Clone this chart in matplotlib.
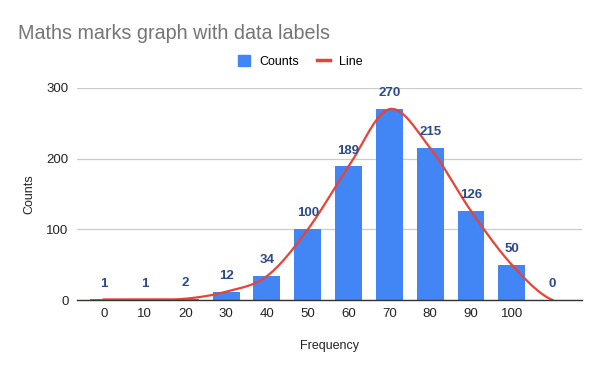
import matplotlib
matplotlib.use("Agg")
import matplotlib.pyplot as plt
import numpy as np
from matplotlib.lines import Line2D
from matplotlib.patches import Patch

# chart data
tick_labels = ["0", "10", "20", "30", "40", "50", "60", "70", "80", "90", "100", ""]
counts = [1, 1, 2, 12, 34, 100, 189, 270, 215, 126, 50, 0]

plt.rcParams["font.family"] = ["Liberation Sans", "DejaVu Sans"]

BLUE = "#4285F4"
RED = "#EA4335"
LABEL = "#2A4A8C"


def smooth(y, steps=30):
    # catmull-rom curve through the points, like the sheets "smooth" line
    y = np.asarray(y, dtype=float)
    p = np.concatenate([[y[0]], y, [y[-1]]])
    xs, ys = [], []
    for i in range(len(y) - 1):
        p0, p1, p2, p3 = p[i], p[i + 1], p[i + 2], p[i + 3]
        t = np.linspace(0, 1, steps, endpoint=False)
        v = 0.5 * ((2 * p1) + (-p0 + p2) * t + (2 * p0 - 5 * p1 + 4 * p2 - p3) * t**2
                   + (-p0 + 3 * p1 - 3 * p2 + p3) * t**3)
        xs.append(i + t)
        ys.append(v)
    xs.append([len(y) - 1])
    ys.append([y[-1]])
    return np.concatenate(xs), np.concatenate(ys)


fig = plt.figure(figsize=(6, 3.71), dpi=100)
ax = fig.add_axes([0.128, 0.191, 0.842, 0.572])

x = np.arange(len(counts))
ax.bar(x, counts, width=0.66, color=BLUE, zorder=2)
sx, sy = smooth(counts)
ax.plot(sx, sy, color=RED, lw=1.6, zorder=3)

for xi, v in zip(x, counts):
    ax.text(xi, v + 14, str(v), ha="center", va="bottom", fontsize=9.5,
            fontweight="bold", color=LABEL, clip_on=False)

ax.set_xlim(-0.66, 11.72)
ax.set_ylim(0, 300)
ax.set_yticks([0, 100, 200, 300])
ax.set_xticks(x)
ax.set_xticklabels(tick_labels)
ax.tick_params(length=0, labelsize=9.5, colors="#222222")
ax.tick_params(axis="y", pad=6)
ax.tick_params(axis="x", pad=6)
ax.yaxis.grid(True, color="#cccccc", lw=0.9, zorder=0)
ax.set_axisbelow(True)
for s in ["top", "right", "left"]:
    ax.spines[s].set_visible(False)
ax.spines["bottom"].set_color("#333333")
ax.spines["bottom"].set_linewidth(1.0)
ax.spines["bottom"].set_zorder(4)

ax.set_xlabel("Frequency", fontsize=9, color="#222222", labelpad=14)
ax.set_ylabel("Counts", fontsize=9, color="#222222", labelpad=8)

fig.text(0.03, 0.91, "Maths marks graph with data labels", fontsize=14.2,
         color="#757575", va="center", ha="left")

handles = [Patch(color=BLUE, label="Counts"),
           Line2D([0], [0], color=RED, lw=2.5, label="Line")]
fig.legend(handles=handles, loc="center", bbox_to_anchor=(0.5, 0.835), ncol=2,
           frameon=False, fontsize=9, handlelength=1.0, handleheight=1.0,
           columnspacing=1.5, handletextpad=0.7)

fig.savefig("out.png", dpi=100)
